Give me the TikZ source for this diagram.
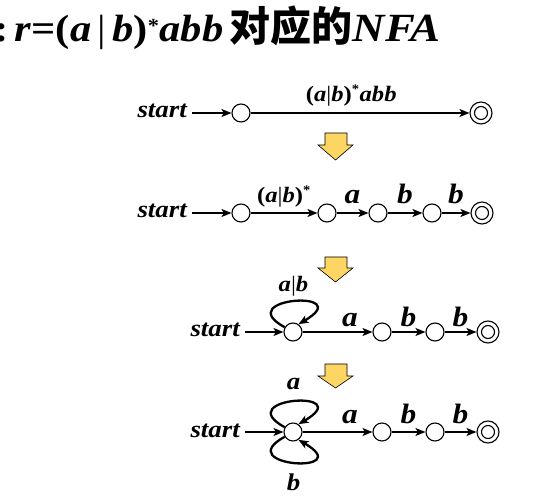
\documentclass[tikz,border=0pt]{standalone}
\usepackage{fontspec}
\setmainfont{Liberation Serif}[FakeStretch=1.12]
\newfontfamily\cjk{Noto Sans CJK SC}
\usetikzlibrary{arrows.meta}
\begin{document}
\begin{tikzpicture}[x=1pt,y=-1pt,
  st/.style={circle,draw,line width=1.1pt,minimum size=18pt,inner sep=0pt},
  fin/.style={st,minimum size=22pt,path picture={\draw[line width=1.1pt] (path picture bounding box.center) circle (6.5pt);}},
  edge/.style={line width=1.7pt,-{Stealth[length=10pt,width=8pt,inset=2.5pt]}},
  loopedge/.style={edge,line width=2.3pt},
  startlbl/.style={font=\fontsize{24}{24}\selectfont\bfseries\itshape,inner sep=0pt,anchor=base east},
  biglbl/.style={font=\fontsize{28}{28}\selectfont\bfseries\itshape,inner sep=0pt},
  midlbl/.style={font=\fontsize{22}{22}\selectfont\bfseries,inner sep=0pt},
  downarrow/.style={draw=black,line width=0.6pt,fill=yellow!50!orange!60!white,line join=miter}
]
\useasboundingbox (0,0) rectangle (538,502);
% title
\node[anchor=base west,inner sep=0pt,font=\fontsize{38}{38}\selectfont\bfseries] (title) at (-6,42)
  {:\,\textit{r}=(\textit{a}\,{\mdseries|}\,\textit{b})\textsuperscript{\fontsize{20}{20}\selectfont *}\textit{abb}\,{\cjk\fontsize{41}{41}\selectfont\bfseries 对应的}\textit{\fontsize{40}{40}\selectfont NFA}};
% ---------- row 1
\node[startlbl] (s1) at (187,118) {start};
\node[st] (q10) at (241,113) {};
\node[fin] (f1) at (481,113) {};
\draw[edge] (s1.east |- q10) ++(5,0) coordinate (a1) (a1) -- (q10);
\draw[edge] (q10) -- node[pos=0.46,above=6pt,inner sep=0pt,midlbl] (l1) {(\textit{a}{\mdseries|}\textit{b})\textsuperscript{\fontsize{13}{13}\selectfont *}\textit{abb}} (f1);
% down arrow 1
\draw[downarrow] (325,133) -- (347,133) -- (347,145) -- (353,145) -- (335.5,160) -- (318,145) -- (325,145) -- cycle;
% ---------- row 2
\node[startlbl] (s2) at (187,218) {start};
\node[st] (q20) at (241,213) {};
\node[st] (q21) at (327,213) {};
\node[st] (q22) at (378,213) {};
\node[st] (q23) at (432,213) {};
\node[fin] (f2) at (482,213) {};
\draw[edge] (s2.east |- q20) ++(5,0) coordinate (a2) (a2) -- (q20);
\draw[edge] (q20) -- node[above=5pt,inner sep=0pt,midlbl] {(\textit{a}{\mdseries|}\textit{b})\textsuperscript{\fontsize{13}{13}\selectfont *}} (q21);
\draw[edge] (q21) -- node[above=8pt,inner sep=0pt,biglbl] {a} (q22);
\draw[edge] (q22) -- node[above=8pt,inner sep=0pt,biglbl] {b} (q23);
\draw[edge] (q23) -- node[above=8pt,inner sep=0pt,biglbl] {b} (f2);
% down arrow 2
\draw[downarrow] (325,257) -- (347,257) -- (347,268) -- (353,268) -- (335.5,282) -- (318,268) -- (325,268) -- cycle;
% ---------- row 3
\node[startlbl] (s3) at (240,337) {start};
\node[st] (q30) at (293,332) {};
\node[st] (q31) at (382,332) {};
\node[st] (q32) at (435,332) {};
\node[fin] (f3) at (488,332) {};
\draw[edge] (s3.east |- q30) ++(5,0) coordinate (a3) (a3) -- (q30);
\draw[loopedge] (q30.150) .. controls +(-55,-30) and +(60,-35) .. node[pos=0.5,above=4pt,inner sep=0pt,midlbl] {\textit{a}{\mdseries|}\textit{b}} (q30.55);
\draw[edge] (q30) -- node[pos=0.68,above=4pt,inner sep=0pt,biglbl] {a} (q31);
\draw[edge] (q31) -- node[above=4pt,inner sep=0pt,biglbl] {b} (q32);
\draw[edge] (q32) -- node[above=4pt,inner sep=0pt,biglbl] {b} (f3);
% down arrow 3
\draw[downarrow] (325,364) -- (347,364) -- (347,376) -- (353,376) -- (335.5,388) -- (318,376) -- (325,376) -- cycle;
% ---------- row 4
\node[startlbl] (s4) at (240,437) {start};
\node[st] (q40) at (293,432) {};
\node[st] (q41) at (382,432) {};
\node[st] (q42) at (435,432) {};
\node[fin] (f4) at (488,432) {};
\draw[edge] (s4.east |- q40) ++(5,0) coordinate (a4) (a4) -- (q40);
\draw[loopedge] (q40.150) .. controls +(-55,-30) and +(60,-35) .. node[pos=0.5,above=10pt,inner sep=0pt,biglbl,font=\fontsize{24}{24}\selectfont\bfseries\itshape] {a} (q40.55);
\draw[loopedge] (q40.210) .. controls +(-55,30) and +(60,35) .. node[pos=0.5,below=10pt,inner sep=0pt,biglbl,font=\fontsize{24}{24}\selectfont\bfseries\itshape] {b} (q40.-55);
\draw[edge] (q40) -- node[pos=0.68,above=7pt,inner sep=0pt,biglbl] {a} (q41);
\draw[edge] (q41) -- node[above=7pt,inner sep=0pt,biglbl] {b} (q42);
\draw[edge] (q42) -- node[above=7pt,inner sep=0pt,biglbl] {b} (f4);
\end{tikzpicture}
\end{document}
